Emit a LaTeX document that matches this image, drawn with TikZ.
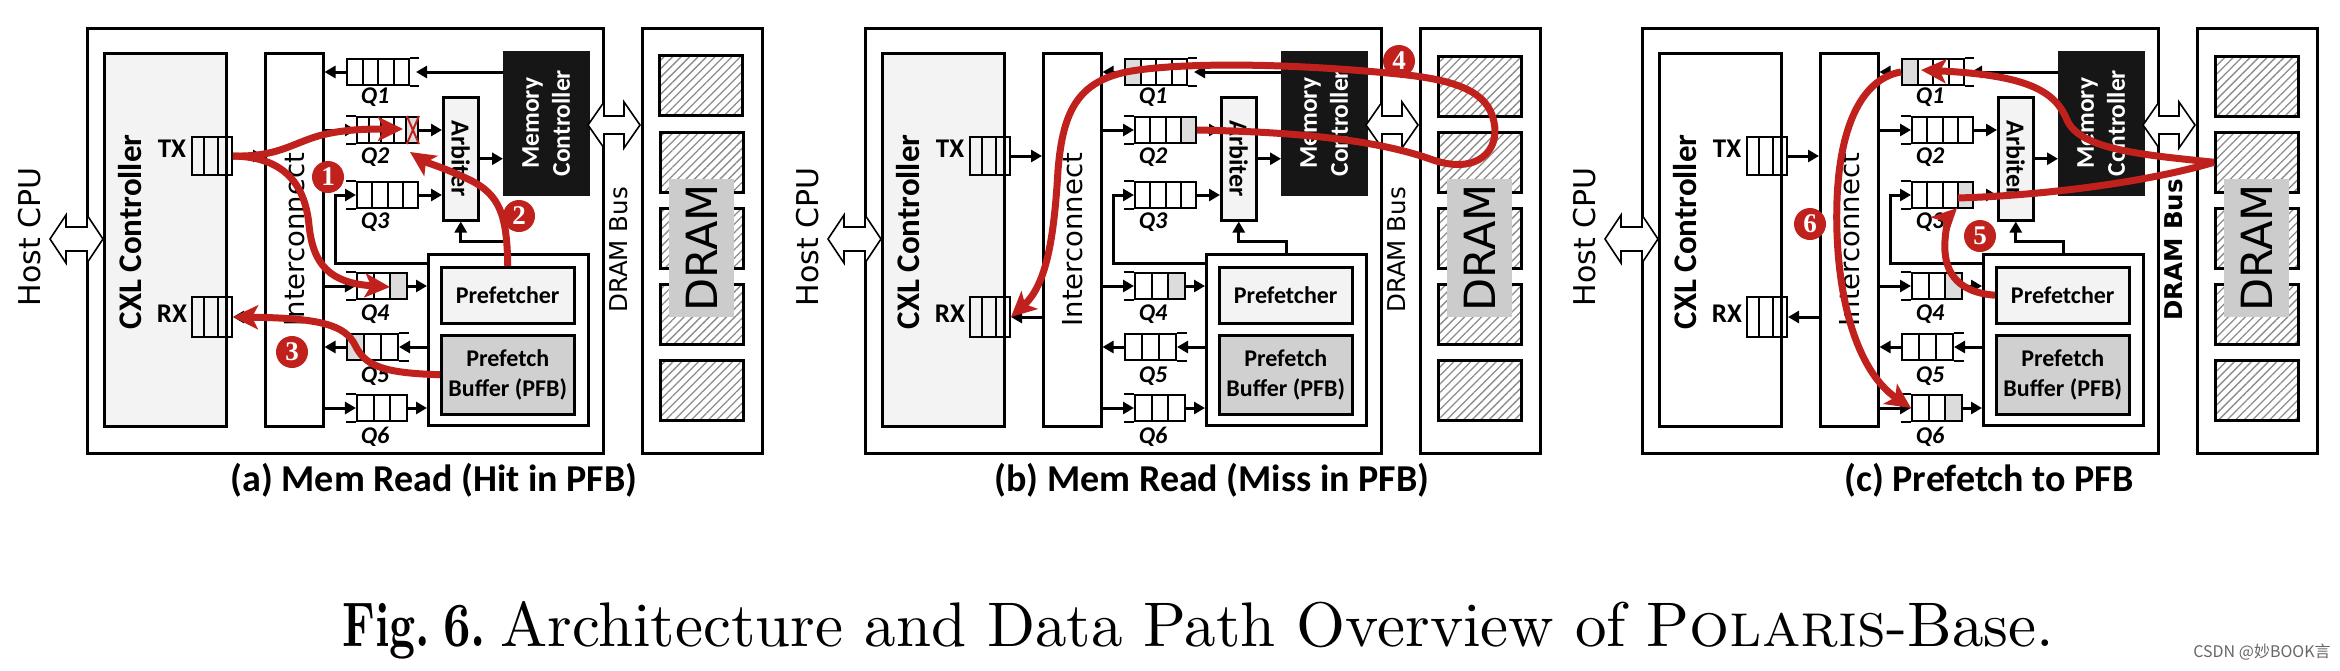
\documentclass[tikz,border=0pt]{standalone}
\usepackage{fontspec}
\usetikzlibrary{arrows.meta,patterns.meta,calc}
\newfontfamily\calf{Carlito}
\newfontfamily\dvs{DejaVu Sans}
\newfontfamily\numf{Liberation Serif}
\newfontfamily\cjk{Noto Sans CJK SC}
\newfontfamily\lmten{lmroman10-regular.otf}[BoldFont=lmroman10-bold.otf,SmallCapsFont=lmromancaps10-regular.otf]
\definecolor{rd}{RGB}{192,33,28}
\definecolor{lg}{RGB}{243,243,243}
\definecolor{qg}{RGB}{220,220,220}
\definecolor{pfbg}{RGB}{208,208,208}
\definecolor{mcb}{RGB}{22,22,22}
\definecolor{dramg}{RGB}{204,204,204}
\newcommand\fs[1]{\fontsize{#1}{#1}\selectfont}
\tikzset{
  bx/.style={draw, line width=2.5pt, inner sep=0pt, anchor=north west},
  qbox/.style={draw, line width=2pt, inner sep=0pt},
  qln/.style={line width=2pt},
  barrow/.style={line width=3pt, -{Triangle[length=11pt,width=12pt]}},
  rarrow/.style={draw=rd, line width=7pt, line join=round, -{Stealth[length=25pt,width=24pt,inset=6pt]}},
  rline/.style={draw=rd, line width=7pt, line join=round},
  num/.style={circle, fill=rd, minimum size=32pt, inner sep=0pt, text=white, font=\numf\bfseries\fs{27}},
  qlab/.style={font=\calf\bfseries\itshape\fs{24}},
  capt/.style={font=\calf\bfseries\fs{38}},
  darrow/.style={draw, fill=white, line width=1.6pt, line join=miter},
  chip/.style={bx, minimum width=83pt, minimum height=60pt, pattern={Lines[angle=45,distance=6pt,line width=1.3pt]}, pattern color=black!45},
}
% #1 name #2 cx #3 cy #4 ncells #5 cellw #6 open side #7 ext #8 gray cell
\newcommand\queue[8]{%
  \ifnum#8>0 \fill[qg] ({#2-#4*#5/2+(#8-1)*#5},{#3-13}) rectangle ++(#5,26);\fi
  \node[qbox, minimum width={#4*#5pt}, minimum height=26pt] (#1) at (#2,#3) {};
  \foreach \i in {1,...,#4}{\draw[qln] ({#2-#4*#5/2+\i*#5},{#3-13}) -- ++(0,26);}
  \draw[qln] (#1.north #6) -- ++(#7,0) (#1.south #6) -- ++(#7,0);
}
% hollow double arrow: #1 centre coordinate name, #2 half length, #3 head length, #4 head half height, #5 shaft half height
\newcommand\dblarrow[5]{%
  \draw[darrow] ($(#1)+(-#2,0)$) -- ++(#3,-#4) -- ++(0,{#4-#5}) -- ++({2*#2-2*#3},0) -- ++(0,{#5-#4})
     -- ++(#3,#4) -- ++(-#3,#4) -- ++(0,{#5-#4}) -- ++({-2*#2+2*#3},0) -- ++(0,{#4-#5}) -- cycle;
}
% #1 prefix #2 xshift #3 cxl fill #4 bus font #5 q2 cells #6 q2 cell width
\newcommand\panelbase[6]{%
\begin{scope}[xshift=#2pt]
  \node[bx, minimum width=516pt, minimum height=425pt] (#1outer) at (86,27) {};
  \node[bx, minimum width=120pt, minimum height=425pt] (#1dram) at (641,27) {};
  \node[bx, fill=#3, minimum width=122pt, minimum height=373pt] (#1cxl) at (103,52) {};
  \node[bx, minimum width=58pt, minimum height=373pt] (#1ic) at (264,52) {};
  \node[bx, fill=lg, minimum width=35pt, minimum height=123pt] (#1arb) at (442,96) {};
  \node[bx, draw=mcb, fill=mcb, minimum width=84pt, minimum height=142pt] (#1mc) at (503,51) {};
  \node[bx, minimum width=160pt, minimum height=171pt] (#1pfc) at (427,253) {};
  \node[bx, fill=lg, minimum width=133pt, minimum height=56pt, font=\calf\bfseries\fs{24}] (#1pref) at (440,266) {Prefetcher};
  \node[bx, fill=pfbg, minimum width=133pt, minimum height=79pt, align=center, font=\calf\bfseries\fontsize{24}{30}\selectfont] (#1pfb) at (440,334) {Prefetch\\Buffer (PFB)};
  \foreach \yy [count=\k] in {55,131,207,283,359} \node[chip] (#1chip\k) at (659,\yy) {};
  \node[fill=dramg, minimum width=65pt, minimum height=138pt, inner sep=0pt] (#1dlab) at (701.5,248) {};
  \node[rotate=90, font=\dvs\fs{43}] (#1dtxt) at (#1dlab) {DRAM};
  \node[rotate=90, font=\dvs\fs{30}] (#1host) at (30,237) {Host CPU};
  \node[rotate=90, font=\calf\bfseries\fs{33}] (#1cxlt) at (130,232) {CXL Controller};
  \node[rotate=90, font=\dvs\fs{27.5}] (#1ict) at (#1ic) {Interconnect};
  \node[rotate=-90, font=\calf\bfseries\fs{26}] (#1arbt) at (#1arb) {Arbiter};
  \node[rotate=90, align=center, text=white, font=\calf\bfseries\fontsize{25.5}{31}\selectfont] (#1mct) at (#1mc) {Memory\\Controller};
  \node[rotate=90, font=#4] (#1bust) at (619,250) {DRAM Bus};
  % TX / RX
  \node[qbox, minimum width=40pt, minimum height=38pt] (#1tx) at (212,156) {};
  \draw[qln] ($(#1tx.north west)+(13.3,0)$) -- ++(0,38) ($(#1tx.north west)+(26.7,0)$) -- ++(0,38);
  \node[font=\calf\bfseries\fs{27}] (#1txl) at (172,149) {TX};
  \node[qbox, minimum width=40pt, minimum height=40pt] (#1rx) at (212,317) {};
  \draw[qln] ($(#1rx.north west)+(13.3,0)$) -- ++(0,40) ($(#1rx.north west)+(26.7,0)$) -- ++(0,40);
  \node[font=\calf\bfseries\fs{27}] (#1rxl) at (172,314) {RX};
  % double arrows (host link, DRAM bus)
  \coordinate (#1harr) at (76.5,239);
  \coordinate (#1barr) at (614,125);
  \dblarrow{#1harr}{26.5}{16}{24}{12}
  \dblarrow{#1barr}{26}{16}{23}{9}
  % queues
  \queue{#1q1}{378}{72}{4}{15.5}{east}{9}{\gone}
  \queue{#1q2}{387.5}{130}{#5}{#6}{west}{-10}{\gtwo}
  \queue{#1q3}{387.5}{195}{4}{15.25}{west}{-10}{\gthree}
  \queue{#1q4}{382}{286}{3}{16.67}{west}{-10}{\gfour}
  \queue{#1q5}{372.5}{347}{3}{17}{east}{10}{\gfive}
  \queue{#1q6}{382}{408}{3}{16.67}{west}{-10}{\gsix}
  \node[qlab] (#1q1l) at (375,97) {Q1};
  \node[qlab] (#1q2l) at (375,157) {Q2};
  \node[qlab] (#1q3l) at (375,222) {Q3};
  \node[qlab] (#1q4l) at (375,314) {Q4};
  \node[qlab] (#1q5l) at (375,376) {Q5};
  \node[qlab] (#1q6l) at (375,437) {Q6};
  % black connectors
  \coordinate (#1loop) at (335,263);
  \draw[barrow] (#1tx.east) -- (#1tx.east -| #1ic.west);
  \draw[barrow] (#1ic.west |- #1rx.east) -- (#1rx.east);
  \draw[barrow] (#1mc.west |- #1q1.east) -- ($(#1q1.east)+(6,0)$);
  \draw[barrow] (#1q1.west) -- (#1q1.west -| #1ic.east);
  \draw[barrow] (#1ic.east |- #1q2.west) -- (#1q2.west);
  \draw[barrow] (#1q2.east) -- (#1q2.east -| #1arb.west);
  \draw[barrow] (#1pfc.west |- #1loop) -- (#1loop) |- (#1q3.west);
  \draw[barrow] (#1q3.east) -- (#1q3.east -| #1arb.west);
  \draw[barrow] (#1arb.east) -- (#1arb.east -| #1mc.west);
  \draw[barrow] (#1pfc.north) -- ++(0,-12) -| (#1arb.south);
  \draw[barrow] (#1ic.east |- #1q4.west) -- (#1q4.west);
  \draw[barrow] (#1q4.east) -- (#1q4.east -| #1pfc.west);
  \draw[barrow] (#1pfc.west |- #1q5.east) -- (#1q5.east);
  \draw[barrow] (#1q5.west) -- (#1q5.west -| #1ic.east);
  \draw[barrow] (#1ic.east |- #1q6.west) -- (#1q6.west);
  \draw[barrow] (#1q6.east) -- (#1q6.east -| #1pfc.west);
\end{scope}}

\begin{document}
\begin{tikzpicture}[x=1pt,y=-1pt]
\fill[white] (0,0) rectangle (2340,670);
\useasboundingbox (0,0) rectangle (2340,670);

% ---------- panel (a)
\def\gone{0}\def\gtwo{5}\def\gthree{0}\def\gfour{3}\def\gfive{1}\def\gsix{0}
\panelbase{a}{0}{lg}{\dvs\fs{24.5}}{5}{12.2}
\draw[rd, line width=2pt] ($(aq2.north east)+(-12.2,0)$) -- (aq2.south east)
  (aq2.north east) -- ($(aq2.south east)+(-12.2,0)$);
\coordinate (aX) at (403,129);
\coordinate (aQ4in) at (390,287);
\coordinate (aQ2b) at (410,152);
\draw[rarrow] (atx.east) .. controls (275,157) and (290,145) .. (315,137) .. controls (340,129) and (370,129) .. (aX);
\draw[rarrow] (atx.east) .. controls (285,157) and (305,185) .. (309,225) .. controls (313,265) and (330,283) .. (aQ4in);
\draw[rarrow] (apref.north) .. controls (507,215) and (500,195) .. (470,180) .. controls (445,168) and (425,162) .. (aQ2b);
\draw[rarrow] (apfb.west) .. controls (380,373) and (365,365) .. (355,345) .. controls (345,325) and (320,318) .. (arx.east);
\node[num] (n1) at (328,177) {1};
\node[num] (n2) at (519,216) {2};
\node[num] (n3) at (292,352) {3};
\node[capt] (acap) at (434,480) {(a) Mem Read (Hit in PFB)};

% ---------- panel (b)
\def\gone{1}\def\gtwo{4}\def\gthree{0}\def\gfour{3}\def\gfive{0}\def\gsix{0}
\panelbase{b}{778}{lg}{\dvs\fs{24.5}}{4}{15.25}
\begin{scope}[xshift=778pt]
\draw[rarrow] (bq2.east) .. controls (520,132) and (600,140) .. (655,160) .. controls (700,175) and (722,150) .. (716,122) .. controls (710,92) and (680,80) .. (620,74) .. controls (520,64) and (420,62) .. (360,70) .. controls (300,78) and (285,110) .. (280,170) .. controls (276,240) and (268,285) .. (brx.east);
\node[num] (n4) at (621,61) {4};
\node[capt] (bcap) at (434,480) {(b) Mem Read (Miss in PFB)};
\end{scope}

% ---------- panel (c)
\def\gone{1}\def\gtwo{0}\def\gthree{4}\def\gfour{3}\def\gfive{0}\def\gsix{3}
\panelbase{c}{1555}{white}{\dvs\bfseries\fs{24.5}}{4}{15.25}
\begin{scope}[xshift=1555pt]
\coordinate (cQ1in) at (366,70);
\coordinate (cQ3in) at (403,198);
\coordinate (cQ3b) at (402,208);
\draw[rarrow] (cchip2.west) .. controls (590,155) and (525,150) .. (512,120) .. controls (500,90) and (470,75) .. (cQ1in);
\draw[rline] (cchip2.west) .. controls (600,180) and (500,195) .. (cQ3in);
\draw[rarrow] (cpref.west) .. controls (400,292) and (388,270) .. (390,240) .. controls (391,225) and (395,215) .. (cQ3b);
\draw[rarrow] (cq1.west) .. controls (310,78) and (285,120) .. (282,200) .. controls (279,290) and (300,370) .. (cq6.west);
\node[num] (n5) at (425,236) {5};
\node[num] (n6) at (255,224) {6};
\node[capt] (ccap) at (434,480) {(c) Prefetch to PFB};
\end{scope}

% ---------- figure caption
\node[anchor=base west, inner sep=0pt, font=\lmten\fs{63}] (fig) at (500,646)
  {\llap{\scalebox{0.72}[1]{\textbf{Fig.}}\hspace{13pt}\scalebox{0.76}[1]{\textbf{6.}}\hspace{14pt}}Architecture and Data Path Overview of P\textsc{olaris}-Base.};
\node[font=\cjk\fs{16}, text=black!60] (wm) at (2262,652) {CSDN @妙BOOK言};
\end{tikzpicture}
\end{document}
